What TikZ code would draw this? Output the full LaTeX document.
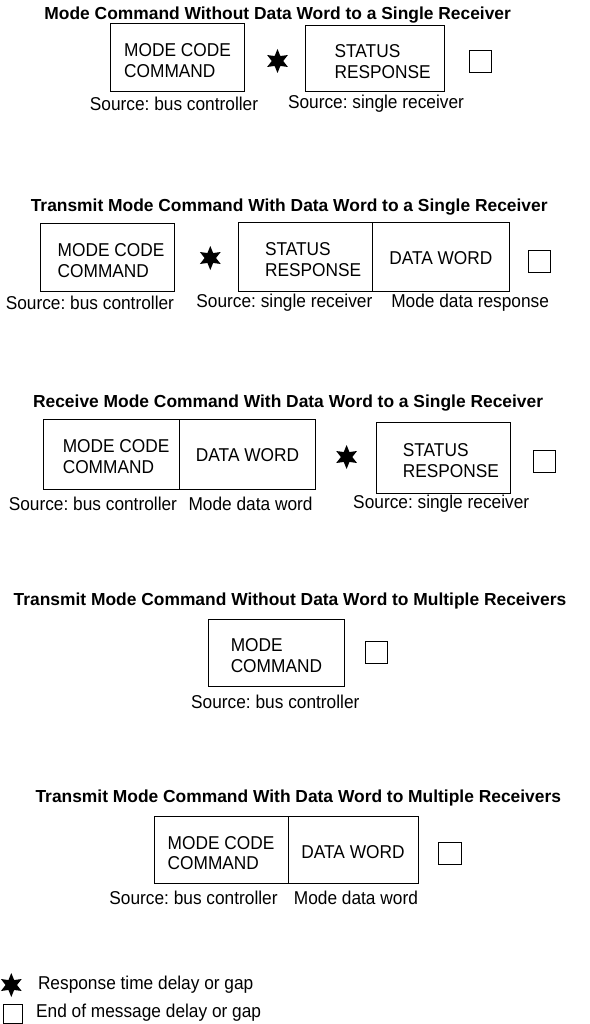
\documentclass[tikz,border=0pt]{standalone}
\usepackage{fontspec}
\setmainfont{Liberation Sans}
\newfontfamily\wordfam{Liberation Sans}[FakeStretch=0.93]
\usetikzlibrary{shapes.geometric}

\newcommand{\wordfont}{\wordfam\frenchspacing\fontsize{18.6}{20.7}\selectfont}
\newcommand{\titlefont}{\bfseries\fontsize{17.4}{19}\selectfont}
\newcommand{\statind}{\hspace*{15pt}}

\tikzset{
  word/.style={draw, line width=1pt, align=left, inner sep=0pt, text height=39pt, text depth=0pt, font=\wordfont},
  oneline/.style={text height=15.5pt},
  title/.style={font=\titlefont, inner sep=0pt},
  src/.style={font=\wordfont, inner sep=0pt},
  gap/.style={star, star points=6, star point ratio=2.1, fill=black, inner sep=0pt, minimum size=24pt},
  eom/.style={draw, line width=1pt, minimum width=22.5pt, minimum height=22pt, inner sep=0pt},
}

\begin{document}
\begin{tikzpicture}[x=1pt,y=-1pt]
\useasboundingbox (0,0) rectangle (589,1024);

% mode command without data word, single receiver
\node[title] (t1) at (277.7,15) {Mode Command Without Data Word to a Single Receiver};
\node[word, minimum width=134.4pt, minimum height=68pt] (mc1) at (177.5,58) {MODE CODE\\COMMAND};
\node[gap] (g1) at (277.5,61) {};
\node[word, minimum width=138.5pt, minimum height=66pt] (sr1) at (375.2,59) {\statind STATUS\\\statind RESPONSE};
\node[eom] (e1) at (480.3,62) {};
\node[src] (s1a) at (174,104) {Source: bus controller};
\node[src] (s1b) at (376,104) {Source: single receiver};

% transmit mode command with data word, single receiver
\node[title] (t2) at (289.2,207) {Transmit Mode Command With Data Word to a Single Receiver};
\node[word, minimum width=134pt, minimum height=67pt] (mc2) at (107,257.5) {\hspace*{8pt}MODE CODE\\\hspace*{8pt}COMMAND};
\node[gap] (g2) at (210.3,258) {};
\node[word, minimum width=134.1pt, minimum height=68pt] (sr2) at (305.65,257) {\statind STATUS\\\statind RESPONSE};
\node[word, oneline, minimum width=136.3pt, minimum height=68pt] (dw2) at (440.85,257) {DATA WORD};
\node[eom] (e2) at (539.6,261) {};
\node[src] (s2a) at (89.9,303) {Source: bus controller};
\node[src] (s2b) at (284.4,303) {Source: single receiver};
\node[src] (s2c) at (470.1,303) {Mode data response};

% receive mode command with data word, single receiver
\node[title] (t3) at (288.1,403) {Receive Mode Command With Data Word to a Single Receiver};
\node[word, minimum width=135.6pt, minimum height=70pt] (mc3) at (111.6,454) {\hspace*{9pt}MODE CODE\\\hspace*{9pt}COMMAND};
\node[word, oneline, minimum width=136.3pt, minimum height=70pt] (dw3) at (247.55,454) {DATA WORD};
\node[gap] (g3) at (346.6,457) {};
\node[word, minimum width=134.9pt, minimum height=71pt] (sr3) at (443.45,457.5) {\statind STATUS\\\statind RESPONSE};
\node[eom] (e3) at (544.5,461.5) {};
\node[src] (s3a) at (92.9,504) {Source: bus controller};
\node[src] (s3b) at (250.55,504) {Mode data word};
\node[src] (s3c) at (441.2,504) {Source: single receiver};

% transmit mode command without data word, multiple receivers
\node[title] (t4) at (290,601) {Transmit Mode Command Without Data Word to Multiple Receivers};
\node[word, minimum width=135.2pt, minimum height=67pt] (mo4) at (276.4,652.5) {MODE\\COMMAND};
\node[eom] (e4) at (376.45,652) {};
\node[src] (s4a) at (275.3,702) {Source: bus controller};

% transmit mode command with data word, multiple receivers
\node[title] (t5) at (298.3,798) {Transmit Mode Command With Data Word to Multiple Receivers};
\node[word, minimum width=134pt, minimum height=67.3pt] (mc5) at (221,850.3) {MODE CODE\\COMMAND};
\node[word, oneline, minimum width=130pt, minimum height=67.3pt] (dw5) at (353,850.3) {DATA WORD};
\node[eom] (e5) at (450.1,853.9) {};
\node[src] (s5a) at (193.5,898) {Source: bus controller};
\node[src] (s5b) at (355.9,898) {Mode data word};

% key
\node[gap] (kg) at (11.3,985) {};
\node[src, anchor=west] (kgt) at (37.8,985) {Response time delay or gap};
\node[eom, minimum width=19pt, minimum height=19pt] (ke) at (12.85,1013.5) {};
\node[src, anchor=west] (ket) at (35.9,1013) {End of message delay or gap};
\end{tikzpicture}
\end{document}
